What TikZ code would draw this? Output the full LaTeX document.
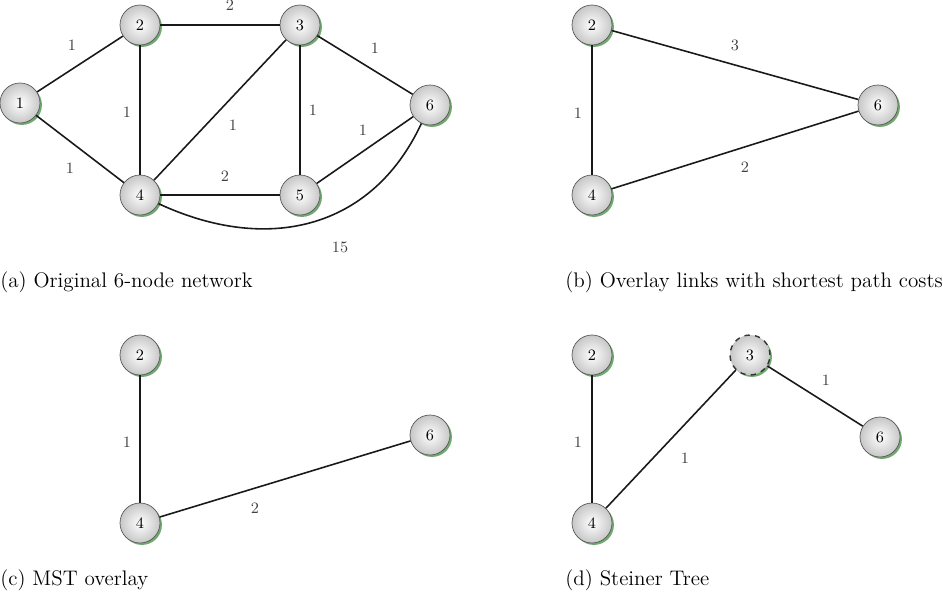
\documentclass[tikz,border=0pt]{standalone}
\usetikzlibrary{shadows}
\begin{document}
\begin{tikzpicture}[x=0.02cm,y=-0.02cm,
  nd/.style={circle,draw=black!65,thin,minimum size=0.8cm,inner sep=0pt,font=\small,
    shade,inner color=white,outer color=black!22,
    drop shadow={fill=green!40!black!75,shadow xshift=1.1pt,shadow yshift=-1.1pt,opacity=0.75}},
  dn/.style={nd,draw=black!80,dashed,thick},
  ed/.style={draw=black!90,line width=0.9pt},
  lb/.style={font=\small,text=black!75},
  captxt/.style={anchor=west,font=\large,inner sep=0pt}]
\useasboundingbox (0,0) rectangle (943,600);
% (a)
\node[nd] (a1) at (20,103) {1};
\node[nd] (a2) at (140,25) {2};
\node[nd] (a3) at (300,25) {3};
\node[nd] (a4) at (140,195) {4};
\node[nd] (a5) at (300,195) {5};
\node[nd] (a6) at (430,105) {6};
\draw[ed] (a1)--(a2); \draw[ed] (a1)--(a4); \draw[ed] (a2)--(a3);
\draw[ed] (a2)--(a4); \draw[ed] (a3)--(a4); \draw[ed] (a3)--(a5);
\draw[ed] (a3)--(a6); \draw[ed] (a4)--(a5); \draw[ed] (a5)--(a6);
\draw[ed] (a4) to[out=-25,in=-115,looseness=1.1] (a6);
\node[lb] (la1) at (72,45) {1};
\node[lb] (la2) at (230,5) {2};
\node[lb] (la3) at (375,48) {1};
\node[lb] (la4) at (127,112) {1};
\node[lb] (la5) at (233,125) {1};
\node[lb] (la6) at (313,110) {1};
\node[lb] (la7) at (363,130) {1};
\node[lb] (la8) at (70,168) {1};
\node[lb] (la9) at (225,176) {2};
\node[lb] (la10) at (340,247) {15};
\node[captxt] (ca) at (0,282) {(a) Original 6-node network};
% (b)
\node[nd] (b2) at (592,25) {2};
\node[nd] (b6) at (878,105) {6};
\node[nd] (b4) at (592,195) {4};
\draw[ed] (b2)--(b6); \draw[ed] (b2)--(b4); \draw[ed] (b4)--(b6);
\node[lb] (lb1) at (735,45) {3};
\node[lb] (lb2) at (578,113) {1};
\node[lb] (lb3) at (745,167) {2};
\node[captxt] (cb) at (565,282) {(b) Overlay links with shortest path costs};
% (c)
\node[nd] (c2) at (140,355) {2};
\node[nd] (c4) at (140,523) {4};
\node[nd] (c6) at (430,435) {6};
\draw[ed] (c2)--(c4); \draw[ed] (c4)--(c6);
\node[lb] (lc1) at (127,442) {1};
\node[lb] (lc2) at (255,508) {2};
\node[captxt] (cc) at (0,580) {(c) MST overlay};
% (d)
\node[nd] (d2) at (592,355) {2};
\node[nd] (d4) at (592,523) {4};
\node[dn] (d3) at (750,355) {3};
\node[nd] (d6) at (880,437) {6};
\draw[ed] (d2)--(d4); \draw[ed] (d4)--(d3); \draw[ed] (d3)--(d6);
\node[lb] (ld1) at (578,442) {1};
\node[lb] (ld2) at (685,458) {1};
\node[lb] (ld3) at (826,380) {1};
\node[captxt] (cd) at (565,580) {(d) Steiner Tree};
\end{tikzpicture}
\end{document}
